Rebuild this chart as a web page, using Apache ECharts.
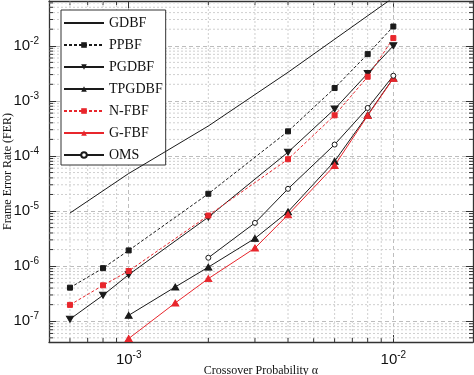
<!DOCTYPE html>
<html><head><meta charset="utf-8">
<script src="https://cdn.jsdelivr.net/npm/echarts@6/dist/echarts.min.js"></script>
<style>html,body{margin:0;padding:0;background:#fff}#c{width:474px;height:375px}</style>
</head><body><div id="c"></div>
<script>
// ---- data ----
const gdbfX = [6e-4, 1e-3, 2e-3, 4e-3, 1e-2];
const gdbf = [9.2e-6, 4.8e-5, 3.5e-4, 3.3e-3, 7.5e-2];
const ppbfX = [6e-4, 8e-4, 1e-3, 2e-3, 4e-3, 6e-3, 8e-3, 1e-2];
const ppbf = [4.07e-7, 9.2e-7, 1.93e-6, 2.06e-5, 2.8e-4, 1.71e-3, 7.06e-3, 2.24e-2];
const pgdbf = [1.09e-7, 2.96e-7, 7.0e-7, 7.76e-6, 1.17e-4, 7.1e-4, 3.15e-3, 1.0e-2];
const nfbf = [1.98e-7, 4.49e-7, 8.16e-7, 8.3e-6, 8.73e-5, 5.47e-4, 2.74e-3, 1.38e-2];
const tpX = [1e-3, 1.5e-3, 2e-3, 3e-3, 4e-3, 6e-3, 8e-3, 1e-2];
const tpgdbf = [1.28e-7, 4.19e-7, 9.6e-7, 3.19e-6, 9.7e-6, 8.03e-5, 5.55e-4, 2.6e-3];
const gfbf = [4.85e-8, 2.15e-7, 5.93e-7, 2.13e-6, 8.55e-6, 6.7e-5, 5.4e-4, 2.56e-3];
const omsX = [2e-3, 3e-3, 4e-3, 6e-3, 8e-3, 1e-2];
const oms = [1.42e-6, 6.1e-6, 2.53e-5, 1.61e-4, 7.43e-4, 2.86e-3];

// ---- axes ----
const xMin = 5e-4, xMax = 2e-2, yMin = 4.2e-8, yMax = 6.5e-2;
const xMinorTicks = [6e-4, 7e-4, 8e-4, 9e-4, 2e-3, 3e-3, 4e-3, 5e-3, 6e-3, 7e-3, 8e-3, 9e-3];
const yMinorTicks = [5e-8, 6e-8, 7e-8, 8e-8, 9e-8,
  2e-7, 3e-7, 4e-7, 5e-7, 6e-7, 7e-7, 8e-7, 9e-7,
  2e-6, 3e-6, 4e-6, 5e-6, 6e-6, 7e-6, 8e-6, 9e-6,
  2e-5, 3e-5, 4e-5, 5e-5, 6e-5, 7e-5, 8e-5, 9e-5,
  2e-4, 3e-4, 4e-4, 5e-4, 6e-4, 7e-4, 8e-4, 9e-4,
  2e-3, 3e-3, 4e-3, 5e-3, 6e-3, 7e-3, 8e-3, 9e-3,
  2e-2, 3e-2, 4e-2, 5e-2, 6e-2];

const BLACK = '#1a1a1a', RED = '#e8262c';
const SERIF = '"Liberation Serif","Times New Roman",serif';
const SANS = '"Liberation Sans",Arial,sans-serif';
const DOWN_TRI = 'path://M0,0 L10,0 L5,9 Z';
const UP_TRI = 'path://M5,0 L10,9 L0,9 Z';

function pow10Label(v) {
  const e = Math.log10(v);
  if (Math.abs(e - Math.round(e)) > 1e-6) return '';
  return '{b|10}{s|' + Math.round(e) + '}';
}
const labelRich = {
  b: { fontFamily: SANS, fontSize: 15, color: '#111' },
  s: { fontFamily: SANS, fontSize: 10, color: '#111', padding: [0, 0, 9, 0] }
};
const frameLine = { show: true, onZero: false, lineStyle: { color: '#333', width: 1.3 } };
const majorSplit = { show: true, lineStyle: { color: '#bdbdbd', type: [4, 3], width: 1 } };

function zip(xs, ys) { return xs.map((x, i) => [x, ys[i]]); }

function minorRender(isX) {
  return function (params, api) {
    const cs = params.coordSys;
    const v = api.value(isX ? 0 : 1);
    const style = { stroke: '#cfcfcf', lineWidth: 1, lineDash: [2, 2], fill: null };
    const tick = { stroke: '#333', lineWidth: 1, fill: null };
    if (isX) {
      const p = api.coord([v, 1e-5])[0];
      const y0 = cs.y, y1 = cs.y + cs.height;
      return { type: 'group', children: [
        { type: 'line', shape: { x1: p, y1: y0, x2: p, y2: y1 }, style: style },
        { type: 'line', shape: { x1: p, y1: y1, x2: p, y2: y1 - 4 }, style: tick },
        { type: 'line', shape: { x1: p, y1: y0, x2: p, y2: y0 + 4 }, style: tick }
      ]};
    } else {
      const p = api.coord([1e-3, v])[1];
      const x0 = cs.x, x1 = cs.x + cs.width;
      return { type: 'group', children: [
        { type: 'line', shape: { x1: x0, y1: p, x2: x1, y2: p }, style: style },
        { type: 'line', shape: { x1: x0, y1: p, x2: x0 + 4, y2: p }, style: tick },
        { type: 'line', shape: { x1: x1, y1: p, x2: x1 - 4, y2: p }, style: tick }
      ]};
    }
  };
}

function lineSeries(name, xs, ys, color, dashed, symbol, size, extra) {
  return Object.assign({
    name: name, type: 'line', data: zip(xs, ys), z: 5,
    symbol: symbol, symbolSize: size,
    lineStyle: { color: color, width: 1, type: dashed ? [3, 2] : 'solid' },
    itemStyle: { color: color, borderColor: color },
    emphasis: { disabled: true }, animation: false
  }, extra || {});
}

const chart = echarts.init(document.getElementById('c'), null, { renderer: 'canvas' });
try {
chart.setOption({
  animation: false,
  backgroundColor: '#fff',
  grid: { left: 49, right: 1, top: 1, bottom: 33, containLabel: false, outerBoundsMode: 'none' },
  legend: {
    orient: 'vertical', left: 61, top: 10,
    backgroundColor: '#fff', borderColor: '#333', borderWidth: 1,
    padding: [6, 3, 3, 2], itemWidth: 40, itemHeight: 7, itemGap: 8,
    textStyle: { fontFamily: SERIF, fontSize: 14, color: '#111' },
    data: [{ name: 'GDBF', itemStyle: { opacity: 0 } }, 'PPBF', 'PGDBF', 'TPGDBF', 'N-FBF', 'G-FBF', 'OMS']
  },
  xAxis: [{
    type: 'log', min: xMin, max: xMax, logBase: 10,
    name: 'Crossover Probability α', nameLocation: 'middle', nameGap: 23, nameMoveOverlap: false,
    nameTextStyle: { fontFamily: SERIF, fontSize: 12, color: '#111' },
    axisLine: frameLine,
    axisTick: { show: true, inside: true, length: 7, lineStyle: { color: '#333' } },
    axisLabel: { margin: 8, formatter: pow10Label, rich: labelRich, showMinLabel: false, showMaxLabel: false },
    splitLine: majorSplit
  }, {
    type: 'log', min: xMin, max: xMax, position: 'top',
    axisLine: frameLine,
    axisTick: { show: true, inside: true, length: 7, lineStyle: { color: '#333' } },
    axisLabel: { show: false }, splitLine: { show: false }
  }],
  yAxis: [{
    type: 'log', min: yMin, max: yMax, logBase: 10,
    name: 'Frame Error Rate (FER)', nameLocation: 'middle', nameGap: 35, nameMoveOverlap: false,
    nameTextStyle: { fontFamily: SERIF, fontSize: 12, color: '#111' },
    axisLine: frameLine,
    axisTick: { show: true, inside: true, length: 7, lineStyle: { color: '#333' } },
    axisLabel: { margin: 10, formatter: pow10Label, rich: labelRich, showMinLabel: false, showMaxLabel: false },
    splitLine: majorSplit
  }, {
    type: 'log', min: yMin, max: yMax, position: 'right',
    axisLine: frameLine,
    axisTick: { show: true, inside: true, length: 7, lineStyle: { color: '#333' } },
    axisLabel: { show: false }, splitLine: { show: false }
  }],
  series: [
    { type: 'custom', coordinateSystem: 'cartesian2d', silent: true, z: 1, renderItem: minorRender(true),
      encode: { x: 0, y: 1 }, data: xMinorTicks.map(v => [v, 1e-5]), clip: false },
    { type: 'custom', coordinateSystem: 'cartesian2d', silent: true, z: 1, renderItem: minorRender(false),
      encode: { x: 0, y: 1 }, data: yMinorTicks.map(v => [1e-3, v]), clip: false },
    lineSeries('GDBF', gdbfX, gdbf, BLACK, false, 'none', 0, { clip: true }),
    lineSeries('PPBF', ppbfX, ppbf, BLACK, true, 'rect', 5),
    lineSeries('PGDBF', ppbfX, pgdbf, BLACK, false, DOWN_TRI, [7, 6]),
    lineSeries('TPGDBF', tpX, tpgdbf, BLACK, false, UP_TRI, [7, 6]),
    lineSeries('N-FBF', ppbfX, nfbf, RED, true, 'rect', 5),
    lineSeries('G-FBF', tpX, gfbf, RED, false, UP_TRI, [7, 6]),
    lineSeries('OMS', omsX, oms, BLACK, false, 'circle', 5, { itemStyle: { color: '#fff', borderColor: BLACK, borderWidth: 1 } })
  ]
});
} catch (e) {
  document.body.insertAdjacentHTML('beforeend', '<pre style="position:absolute;top:0;left:0;font-size:10px;color:red">' + e.message + '</pre>');
}
</script>
</body></html>
